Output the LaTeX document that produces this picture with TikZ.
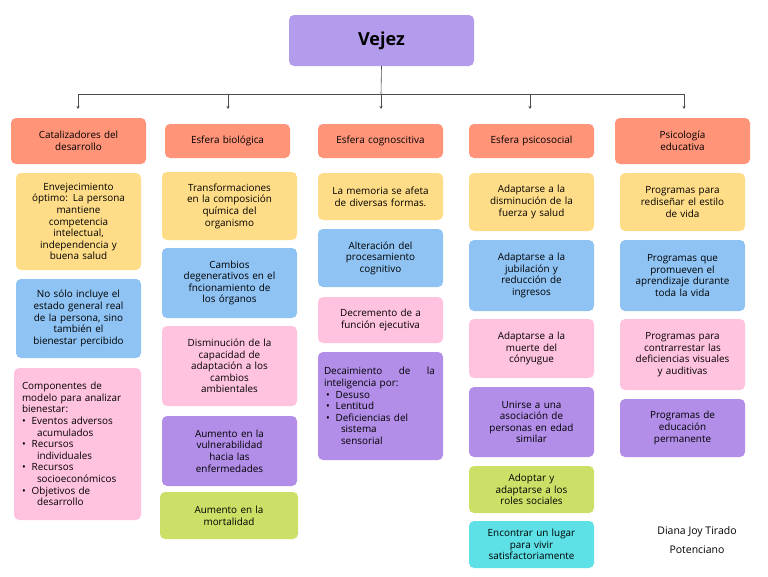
\documentclass[tikz,border=0pt]{standalone}
\usepackage{fontspec}
\setmainfont{Open Sans}
\usetikzlibrary{arrows.meta}
\definecolor{cpur}{HTML}{B49CEC}
\definecolor{cora}{HTML}{FF9479}
\definecolor{cyel}{HTML}{FFDD88}
\definecolor{cblu}{HTML}{8EC3F4}
\definecolor{cpin}{HTML}{FFC3DF}
\definecolor{cvio}{HTML}{B28EE9}
\definecolor{cgre}{HTML}{CCE067}
\definecolor{ccya}{HTML}{5DE1E6}
\newcommand\ind[1]{\leavevmode\kern#1\relax}
\newcommand\itm[1]{\ind{4pt}\textbullet\kern6pt\relax #1}
\tikzset{box/.style={rounded corners=5pt,inner sep=2pt,align=center,font=\fontsize{9.9}{11.6}\selectfont,
  execute at begin node={\hyphenpenalty=10000\relax\exhyphenpenalty=10000\relax}},
 conn/.style={draw=black!70,line width=0.6pt}}
\newcommand\bx[8][center]{%
 \pgfmathsetmacro\tw{#5-#3-8}\pgfmathsetmacro\cx{(#3+#5)/2}\pgfmathsetmacro\cy{(#4+#6)/2}%
 \pgfmathsetmacro\ww{#5-#3}\pgfmathsetmacro\hh{#6-#4}%
 \node[box,align=#1,fill=#7,minimum width=\ww pt,minimum height=\hh pt,text width=\tw pt] (#2) at (\cx,\cy) {#8};}
\begin{document}
\begin{tikzpicture}[x=1pt,y=-1pt]
\useasboundingbox[fill=white] (0,0) rectangle (768,576);
\bx{t}{289}{15}{474}{66}{cpur}{\fontsize{18}{21}\selectfont\bfseries Vejez}
\coordinate (j) at (381,94);
\coordinate (l) at (78,94); \coordinate (r) at (684,94);
\draw[conn] (t.south) -- (j);
\draw[conn] (l) -- (r);
\foreach \x in {78,228,381,530,684}{\coordinate (d\x) at (\x,94); \coordinate (e\x) at (\x,109);
 \draw[conn,-{Stealth[length=3pt,width=3pt]}] (d\x) -- (e\x);}
% column 1
\bx{h1}{11}{118}{146}{164}{cora}{Catalizadores del\\desarrollo}
\bx{a1}{16}{173}{141}{270}{cyel}{Envejecimiento\\óptimo: La persona\\mantiene\\competencia\\intelectual,\\independencia y\\buena salud}
\bx{a2}{16}{279}{141}{358}{cblu}{No sólo incluye el\\estado general real\\de la persona, sino\\también el\\bienestar percibido}
\bx[left]{a3}{14}{368}{141}{520}{cpin}{\ind{4pt}Componentes de\\\ind{4pt}modelo para analizar\\\ind{4pt}bienestar:\\
\itm{Eventos adversos}\\\ind{19pt}acumulados\\
\itm{Recursos}\\\ind{19pt}individuales\\
\itm{Recursos}\\\ind{19pt}socioeconómicos\\
\itm{Objetivos de}\\\ind{19pt}desarrollo}
% column 2
\bx{h2}{165}{124}{290}{158}{cora}{Esfera biológica}
\bx{b1}{162}{172}{297}{240}{cyel}{Transformaciones\\en la composición\\química del\\organismo}
\bx{b2}{162}{248}{297}{318}{cblu}{Cambios\\degenerativos en el\\fncionamiento de\\los órganos}
\bx{b3}{162}{326}{297}{406}{cpin}{Disminución de la\\capacidad de\\adaptación a los\\cambios\\ambientales}
\bx{b4}{162}{416}{297}{486}{cvio}{Aumento en la\\vulnerabilidad\\hacia las\\enfermedades}
\bx{b5}{160}{492}{298}{539}{cgre}{Aumento en la\\mortalidad}
% column 3
\bx{h3}{318}{124}{443}{158}{cora}{Esfera cognoscitiva}
\bx{c1}{318}{173}{443}{220}{cyel}{La memoria se afeta\\de diversas formas.}
\bx{c2}{318}{229}{443}{287}{cblu}{Alteración del\\procesamiento\\cognitivo}
\bx{c3}{318}{297}{443}{343}{cpin}{Decremento de a\\función ejecutiva}
\bx[left]{c4}{318}{352}{443}{460}{cvio}{\ind{2pt}Decaimiento\hfill de\hfill la\kern4pt\\\ind{2pt}inteligencia por:\\
\itm{Desuso}\\
\itm{Lentitud}\\
\itm{Deficiencias del}\\\ind{19pt}sistema\\\ind{19pt}sensorial}
% column 4
\bx{h4}{469}{124}{594}{158}{cora}{Esfera psicosocial}
\bx{p1}{469}{173}{594}{231}{cyel}{Adaptarse a la\\disminución de la\\fuerza y salud}
\bx{p2}{469}{240}{594}{311}{cblu}{Adaptarse a la\\jubilación y\\reducción de\\ingresos}
\bx{p3}{469}{319}{594}{378}{cpin}{Adaptarse a la\\muerte del\\cónyugue}
\bx{p4}{469}{387}{594}{457}{cvio}{Unirse a una\\asociación de\\personas en edad\\similar}
\bx{p5}{469}{466}{594}{513}{cgre}{Adoptar y\\adaptarse a los\\roles sociales}
\bx{p6}{469}{521}{594}{568}{ccya}{Encontrar un lugar\\para vivir\\satisfactoriamente}
% column 5
\bx{h5}{615}{118}{750}{164}{cora}{Psicología\\educativa}
\bx{q1}{620}{173}{745}{231}{cyel}{Programas para\\rediseñar el estilo\\de vida}
\bx{q2}{620}{240}{745}{311}{cblu}{Programas que\\promueven el\\aprendizaje durante\\toda la vida}
\bx{q3}{620}{319}{745}{390}{cpin}{Programas para\\contrarrestar las\\deficiencias visuales\\y auditivas}
\bx{q4}{620}{399}{745}{457}{cvio}{Programas de\\educación\\permanente}
\node[align=center,font=\fontsize{10.5}{19}\selectfont] (sig) at (697,540) {Diana Joy Tirado\\Potenciano};
\end{tikzpicture}
\end{document}
